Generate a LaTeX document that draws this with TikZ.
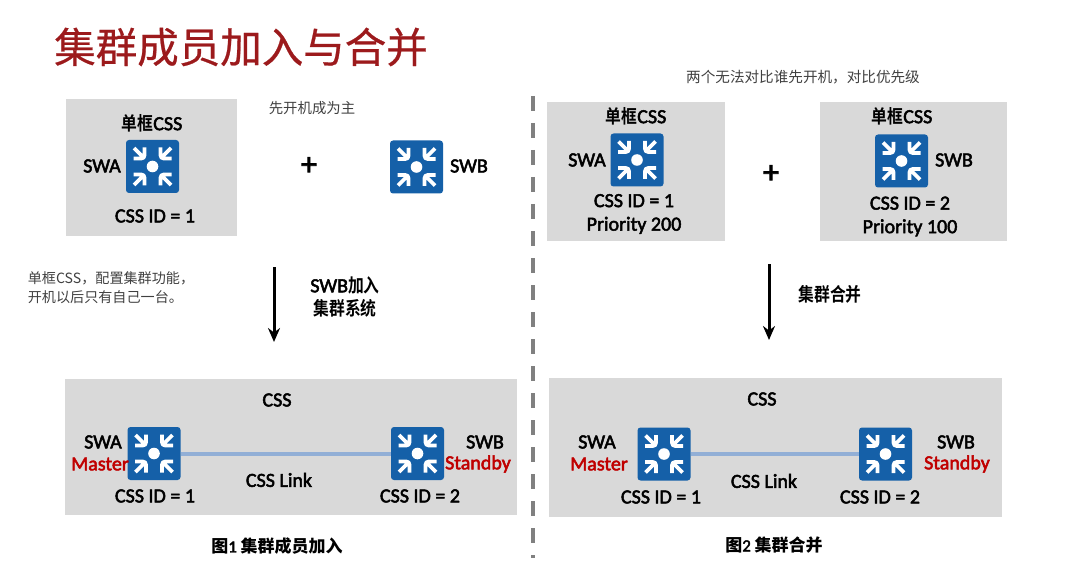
\documentclass[tikz,border=0pt]{standalone}
\usepackage{fontspec}
\setmainfont{Carlito}[BoldFont=Carlito, BoldFeatures={FakeBold=2.5}]
\newfontfamily\cjk{Noto Sans CJK SC}
\newfontfamily\cjkt{Noto Sans CJK SC}[FakeBold=0.6]
\newfontfamily\cjkn{Noto Sans CJK SC}[FakeStretch=0.84, Scale=0.94, BoldFont=Noto Sans CJK SC Bold]
\usetikzlibrary{arrows.meta}
\definecolor{boxgray}{HTML}{D9D9D9}
\definecolor{iconblue}{HTML}{1560A8}
\definecolor{linkblue}{HTML}{92AFD6}
\definecolor{titlered}{HTML}{9C1A1C}
\definecolor{rolered}{HTML}{C00000}
\definecolor{notegray}{HTML}{404040}
\tikzset{
    graybox/.style={fill=boxgray, inner sep=0pt},
    txt/.style={font=\bfseries\fontsize{20}{23.5}\selectfont, align=center, inner sep=0pt, text=black},
    role/.style={txt, text=rolered},
    note/.style={font=\cjk\fontsize{14.4}{19}\selectfont, align=left, inner sep=0pt, text=notegray},
    caption/.style={font=\bfseries\fontsize{17}{20}\selectfont, inner sep=0pt},
    swicon/.style={fill=iconblue, rounded corners=3pt, minimum size=53pt, inner sep=0pt,
        path picture={
            \fill[white] (path picture bounding box.center) circle (5.8pt);
            \foreach \sx/\sy in {-1/-1,1/-1,-1/1,1/1}
                \draw[white, line width=3.6pt, shift={(path picture bounding box.center)}]
                    (\sx*19,\sy*8) -- (\sx*8,\sy*8) -- (\sx*8,\sy*19)
                    (\sx*8,\sy*8) -- (\sx*18.5,\sy*18.5);
        }},
    flow/.style={-{Stealth[length=14pt,width=12pt]}, line width=3pt}
}
\begin{document}
\begin{tikzpicture}[x=1pt,y=-1pt]
    \useasboundingbox (0,0) rectangle (1080,575);

    % gray boxes
    \node[graybox, minimum width=171pt, minimum height=137pt] (boxa) at (151.5,167.5) {};
    \node[graybox, minimum width=178pt, minimum height=139pt] (boxb) at (636,171.5) {};
    \node[graybox, minimum width=187pt, minimum height=139pt] (boxc) at (913.5,171.5) {};
    \node[graybox, minimum width=452pt, minimum height=136pt] (boxd) at (291,447) {};
    \node[graybox, minimum width=453pt, minimum height=139pt] (boxe) at (775.5,447.5) {};

    % title and notes
    \node[inner sep=0pt, text=titlered, font=\cjkt\fontsize{41.5}{44}\selectfont] (title) at (241,47) {集群成员加入与合并};
    \node[note] (notea) at (312,108) {先开机成为主};
    \node[note, font=\cjk\fontsize{14.6}{19}\selectfont] (noteb) at (803,77) {两个无法对比谁先开机，对比优先级};
    \node[note, font=\cjk\fontsize{14.1}{19}\selectfont] (notec) at (111,288) {单框CSS，配置集群功能，\\开机以后只有自己一台。};

    % divider
    \coordinate (divtop) at (533,96);
    \coordinate (divbot) at (533,558);
    \draw[gray, line width=4pt, dash pattern=on 15pt off 12pt] (divtop) -- (divbot);

    % switches
    \node[swicon] (swa1) at (152.5,166.5) {};
    \node[swicon] (swb1) at (416.5,167) {};
    \node[swicon] (swa2) at (637,160) {};
    \node[swicon] (swb2) at (901.5,161) {};
    \node[swicon] (swa3) at (154,453.5) {};
    \node[swicon] (swb3) at (417.5,453.5) {};
    \node[swicon] (swa4) at (664,454) {};
    \node[swicon] (swb4) at (885.5,454) {};

    % links
    \draw[linkblue, line width=4pt] (swa3) -- (swb3);
    \draw[linkblue, line width=4pt] (swa4) -- (swb4);

    % top left
    \node[txt] (heada) at (152,123) {{\cjkn 单框}CSS};
    \node[txt] (namea1) at (102,166) {SWA};
    \node[txt] (ida1) at (155,216) {CSS ID = 1};
    \node[txt, font=\fontsize{32}{32}\selectfont\bfseries] (plusa) at (309,166) {+};
    \node[txt] (nameb1) at (469,166) {SWB};

    % top right
    \node[txt] (headb) at (636,116) {{\cjkn 单框}CSS};
    \node[txt] (namea2) at (587,160) {SWA};
    \node[txt] (ida2) at (634,214) {CSS ID = 1\\Priority 200};
    \node[txt, font=\fontsize{32}{32}\selectfont\bfseries] (plusb) at (771,174) {+};
    \node[txt] (headc) at (902,116) {{\cjkn 单框}CSS};
    \node[txt] (nameb2) at (954,160) {SWB};
    \node[txt] (idb2) at (910,216.5) {CSS ID = 2\\Priority 100};

    % arrows
    \coordinate (flowa) at (274,267);
    \coordinate (flowb) at (274,342);
    \coordinate (flowc) at (769,264);
    \coordinate (flowd) at (769,340);
    \draw[flow] (flowa) -- (flowb);
    \draw[flow] (flowc) -- (flowd);
    \node[txt] (stepa) at (345,297) {SWB{\cjkn 加入}\\{\cjkn 集群系统}};
    \node[txt] (stepb) at (830,294) {{\cjkn 集群合并}};

    % bottom left
    \node[txt] (cssa) at (277,400) {CSS};
    \node[txt] (namea3) at (103,442) {SWA};
    \node[role] (rolea3) at (100,464) {Master};
    \node[txt] (ida3) at (155,496) {CSS ID = 1};
    \node[txt] (linka) at (279,480) {CSS Link};
    \node[txt] (nameb3) at (485,442) {SWB};
    \node[role] (roleb3) at (478,464) {Standby};
    \node[txt] (idb3) at (420,496) {CSS ID = 2};

    % bottom right
    \node[txt] (cssb) at (762,399) {CSS};
    \node[txt] (namea4) at (597,442) {SWA};
    \node[role] (rolea4) at (599,464) {Master};
    \node[txt] (ida4) at (661,497) {CSS ID = 1};
    \node[txt] (linkb) at (764,481) {CSS Link};
    \node[txt] (nameb4) at (956,442) {SWB};
    \node[role] (roleb4) at (957,464) {Standby};
    \node[txt] (idb4) at (880,497) {CSS ID = 2};

    % captions
    \node[caption] (capa) at (277,546) {{\cjk 图}1 {\cjk 集群成员加入}};
    \node[caption] (capb) at (774,545) {{\cjk 图}2 {\cjk 集群合并}};
\end{tikzpicture}
\end{document}
